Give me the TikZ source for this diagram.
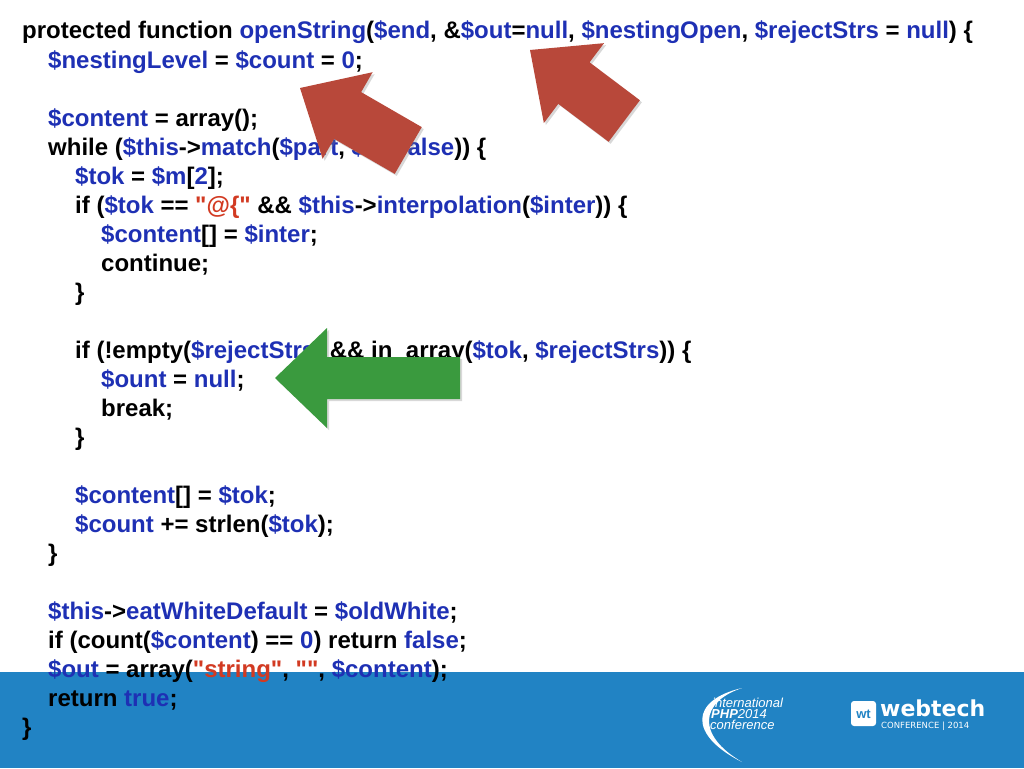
\documentclass[tikz,border=0pt]{standalone}
\usepackage{fontspec}
\setmainfont{Liberation Sans}[Ligatures=TeXOff]
\newfontfamily\logofont{DejaVu Sans}
\definecolor{cb}{HTML}{1E30B4}
\definecolor{cr}{HTML}{D23A22}
\definecolor{band}{HTML}{2183C4}
\definecolor{ared}{HTML}{B8483A}
\definecolor{agreen}{HTML}{3A9A3E}
\newcommand\B[1]{\textcolor{cb}{#1}}
\newcommand\R[1]{\textcolor{cr}{#1}}
\newcommand\q{\symbol{34}}
\usetikzlibrary{shadows}
\tikzset{code/.style={anchor=base west,inner sep=0pt,font=\bfseries\fontsize{24}{28}\selectfont},
 fat/.style={fill=#1,draw=none,drop shadow={opacity=0.3,shadow xshift=2pt,shadow yshift=-2pt}}}
\newcommand\fatarrow[8]{% x y angle L Lh W s color
 \begin{scope}[shift={(#1,#2)},rotate=#3]
 \fill[fat=#8] (0,0) -- (#5,#6/2) -- (#5,#7/2) -- (#4,#7/2) -- (#4,-#7/2) -- (#5,-#7/2) -- (#5,-#6/2) -- cycle;
 \end{scope}}
\begin{document}
\begin{tikzpicture}[x=1pt,y=-1pt]
\useasboundingbox (0,0) rectangle (1024,768);
\fill[white] (0,0) rectangle (1024,768);
\fill[band] (0,672) rectangle (1024,768);
\def\a{22}\def\b{48}\def\c{75}\def\d{101}
\node[code] (l1) at (\a,39) {protected function \B{openString}(\B{\$end}, \&\B{\$out}=\B{null}, \B{\$nestingOpen}, \B{\$rejectStrs} = \B{null}) \{};
\node[code] (l2) at (\b,68) {\B{\$nestingLevel} = \B{\$count} = \B{0};};
\node[code] (l4) at (\b,126) {\B{\$content} = array();};
\node[code] (l5) at (\b,155) {while (\B{\$this}->\B{match}(\B{\$part}, \B{\$m}, \B{false})) \{};
\node[code] (l6) at (\c,184) {\B{\$tok} = \B{\$m}[\B{2}];};
\node[code] (l7) at (\c,213) {if (\B{\$tok} == \R{\q@\{\q} \&\& \B{\$this}->\B{interpolation}(\B{\$inter})) \{};
\node[code] (l8) at (\d,242) {\B{\$content}[] = \B{\$inter};};
\node[code] (l9) at (\d,271) {continue;};
\node[code] (l10) at (\c,300) {\}};
\node[code] (l12) at (\c,358) {if (!empty(\B{\$rejectStrs}) \&\& in\_array(\B{\$tok}, \B{\$rejectStrs})) \{};
\node[code] (l13) at (\d,387) {\B{\$ount} = \B{null};};
\node[code] (l14) at (\d,416) {break;};
\node[code] (l15) at (\c,445) {\}};
\node[code] (l17) at (\c,503) {\B{\$content}[] = \B{\$tok};};
\node[code] (l18) at (\c,532) {\B{\$count} += strlen(\B{\$tok});};
\node[code] (l19) at (\b,561) {\}};
\node[code] (l21) at (\b,619) {\B{\$this}->\B{eatWhiteDefault} = \B{\$oldWhite};};
\node[code] (l22) at (\b,648) {if (count(\B{\$content}) == \B{0}) return \B{false};};
\node[code] (l23) at (\b,677) {\B{\$out} = array(\R{\q string\q}, \R{\q\q}, \B{\$content});};
\node[code] (l24) at (\b,706) {return \B{true};};
\node[code] (l25) at (\a,735) {\}};
\fatarrow{300}{88}{-30}{125}{55}{100}{54}{ared}
\fatarrow{530}{50}{-37}{118}{55}{100}{52}{ared}
\fatarrow{275}{378}{0}{185}{52}{100}{42}{agreen}
% PHP logo
\fill[white] (742,762) .. controls (688,735) and (690,700) .. (742,688) .. controls (700,702) and (696,735) .. cycle;
\node[anchor=base west,inner sep=0pt,text=white,font=\itshape\fontsize{13}{13}\selectfont] (p1) at (712,707) {international};
\node[anchor=base west,inner sep=0pt,text=white,font=\itshape\fontsize{13}{13}\selectfont] (p2) at (711,718) {\textbf{PHP}2014};
\node[anchor=base west,inner sep=0pt,text=white,font=\itshape\fontsize{13}{13}\selectfont] (p3) at (710,729) {conference};
% webtech logo
\fill[white,rounded corners=3pt] (851,701) rectangle (876,726);
\node[inner sep=0pt,text=band,font=\bfseries\fontsize{13}{13}\selectfont] (wt) at (863.5,714) {wt};
\node[anchor=base west,inner sep=0pt,text=white,font=\logofont\bfseries\fontsize{22}{22}\selectfont] (w1) at (880,716) {webtech};
\node[anchor=base west,inner sep=0pt,text=white,font=\logofont\fontsize{8.5}{9}\selectfont] (w2) at (881,728) {CONFERENCE | 2014};
\end{tikzpicture}
\end{document}
